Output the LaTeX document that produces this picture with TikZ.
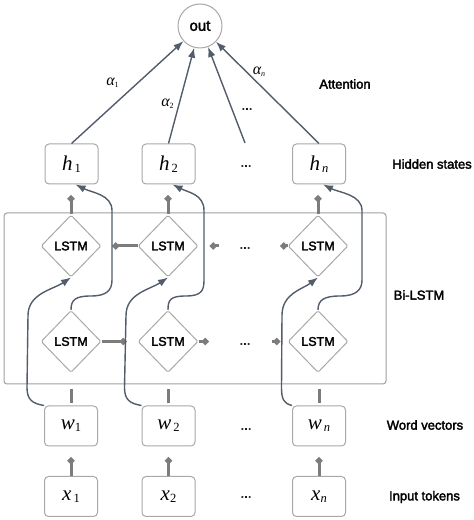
\documentclass[tikz,border=0pt]{standalone}
\usepackage{fontspec}
\setmainfont{Liberation Sans}
\newfontfamily\lfont{Liberation Sans}[FakeBold=2.5]
\newfontfamily\tms{Liberation Serif}
\usetikzlibrary{shapes.geometric,arrows.meta,calc}
\definecolor{dkc}{HTML}{535C6A}
\definecolor{stubc}{HTML}{7C7C7C}
\definecolor{bord}{HTML}{A8A8A8}
\newcommand\mv[2]{{\fontsize{21}{21}\selectfont\tms\itshape #1}\raisebox{-0.2em}{\fontsize{12.5}{12.5}\selectfont\tms #2}}
\newcommand\al[1]{{\fontsize{16}{16}\selectfont\tms\itshape\char"03B1}\raisebox{-0.2em}{\fontsize{8}{8}\selectfont\tms #1}}
\begin{document}
\begin{tikzpicture}[x=1pt,y=1pt,
  box/.style={draw=bord, line width=1pt, rounded corners=4pt, minimum width=53pt, minimum height=40pt, inner sep=0pt, fill=white},
  lstm/.style={diamond, draw=bord, line width=1pt, rounded corners=1.5pt, minimum width=60pt, minimum height=62pt, inner sep=0pt, fill=white, font=\lfont\fontsize{12.5}{12.5}\selectfont},
  lab/.style={font=\lfont\fontsize{13}{13}\selectfont},
  dots/.style={font=\lfont\fontsize{13}{13}\selectfont},
  dk/.style={draw=dkc, line width=1.4pt, -{Latex[length=10pt,width=7.5pt]}},
  stub/.style={draw=stubc, line width=3pt, -{Circle[length=6.5pt]}},
  stubplain/.style={draw=stubc, line width=3pt},
  bil/.style={draw=gray!75, line width=1pt, rounded corners=3pt, minimum width=382pt, minimum height=171pt, inner sep=0pt},
  outc/.style={circle, draw=bord, line width=1pt, minimum size=44pt, inner sep=0pt, font=\lfont\fontsize{15}{15}\selectfont}
]
\useasboundingbox (0,0) rectangle (474,520);

% Bi-LSTM frame
\node[bil] (bi) at (195,221.5) {};

% output
\node[outc] (out) at (200,494) {out};

% hidden states
\node[box] (h1) at (71.5,356) {\mv{h}{\,1}};
\node[box] (h2) at (168.5,356) {\mv{h}{\,2}};
\node[box] (hn) at (319,356) {\mv{h}{\,\itshape n}};
\node[dots] (hd) at (246,354) {...};

% LSTM cells
\node[lstm] (u1) at (71,274) {LSTM};
\node[lstm] (u2) at (168,274) {LSTM};
\node[lstm] (un) at (318,274) {LSTM};
\node[dots] (ud) at (245,272) {...};
\node[lstm] (l1) at (71,178.5) {LSTM};
\node[lstm] (l2) at (168,178.5) {LSTM};
\node[lstm] (ln) at (318,178.5) {LSTM};
\node[dots] (ldd) at (245,176) {...};

% word vectors
\node[box] (w1) at (71,94) {\mv{w}{1}};
\node[box] (w2) at (168.5,94) {\mv{w}{\,2}};
\node[box] (wn) at (319,94) {\mv{w}{\,\itshape n}};
\node[dots] (wd) at (246,91) {...};

% input tokens
\node[box] (x1) at (71,23.5) {\mv{x}{\,1}};
\node[box] (x2) at (168.5,23.5) {\mv{x}{2}};
\node[box] (xn) at (319,23.5) {\mv{x}{\itshape n}};
\node[dots] (xd) at (246,23) {...};

% right-hand labels
\node[lab] (latt) at (345,436) {Attention};
\node[lab] (lhid) at (432,356) {Hidden states};
\node[lab] (lbi) at (419,225) {Bi-LSTM};
\node[lab] (lwv) at (425,95) {Word vectors};
\node[lab] (lit) at (424.5,23) {Input tokens};

% attention
\coordinate (dh) at (245,377);
\draw[dk] (h1.north) -- (out);
\draw[dk] (h2.north) -- (out);
\draw[dk] (dh) -- (out);
\draw[dk] (hn.north) -- (out);
\node (a1) at (112.5,437) {\al{1}};
\node (a2) at (167.5,416) {\al{2}};
\node (an) at (259,448) {\al{\itshape n}};
\node[dots] (ad) at (247,411) {...};

% input -> word vectors
\draw[stub, shorten >=11pt] (x1.north) -- (w1.south);
\draw[stub, shorten >=11pt] (x2.north) -- (w2.south);
\draw[stub, shorten >=11pt] (xn.north) -- (wn.south);

% word vectors -> forward LSTM
\draw[stubplain, shorten <=2pt, shorten >=16pt] (w1.north) -- (w1.north |- l1.south);
\draw[stubplain, shorten <=2pt, shorten >=16pt] (w2.north) -- (w2.north |- l2.south);
\draw[stubplain, shorten <=2pt, shorten >=16pt] (wn.north) -- (wn.north |- ln.south);

% backward LSTM -> hidden
\draw[stub, shorten >=11pt] (u1.north) -- (u1.north |- h1.south);
\draw[stub, shorten >=11pt] (u2.north) -- (u2.north |- h2.south);
\draw[stub, shorten >=11pt] (un.north) -- (un.north |- hn.south);

% recurrent links
\draw[stub, shorten >=11pt] (u2.west) -- (u1.east);
\coordinate (ua) at (219,274); \coordinate (ub) at (210,274);
\draw[stub] (ua) -- (ub);
\draw[stub] (un.west) -- ++(-7,0);
\draw[stub, shorten >=11pt] (l1.east) -- (l2.west);
\draw[stub] (l2.east) -- ++(10,0);
\coordinate (la) at (272,178.5);
\draw[stub] (la) -- ++(8,0);

% column 1 wires
\draw[dk] (l1.north) .. controls +(0,10) and +(-16,0) .. ($(l1.north)+(20,14)$) .. controls +(16,0) and +(0,-10) .. ($(l1.north)+(41,30)$) -- ($(h1.south)+(40.5,-26)$) .. controls +(0,16) and +(16,-8) .. ($(h1.south)+(4,0)$);
\draw[dk] (w1.north west) .. controls +(-12,2) and +(0,-12) .. ($(w1.north west)+(-17,18)$) -- ($(u1.south)+(-43,-38)$) .. controls +(0,22) and +(-18,-12) .. (u1.south);

% column 2 wires
\draw[dk] (l2.north) .. controls +(0,10) and +(-16,0) .. ($(l2.north)+(18,14)$) .. controls +(16,0) and +(0,-10) .. ($(l2.north)+(36,30)$) -- ($(h2.south)+(35.5,-26)$) .. controls +(0,16) and +(16,-8) .. ($(h2.south)+(4,0)$);
\draw[dk] (w2.north west) .. controls +(-12,2) and +(0,-12) .. ($(w2.north west)+(-17,18)$) -- ($(u2.south)+(-42,-38)$) .. controls +(0,22) and +(-18,-12) .. (u2.south);

% column n wires
\draw[dk] (ln.north) .. controls +(0,10) and +(-16,0) .. ($(ln.north)+(22,14)$) .. controls +(16,0) and +(0,-10) .. ($(ln.north)+(44,30)$) -- ($(hn.south)+(43,-26)$) .. controls +(0,16) and +(16,-8) .. ($(hn.south)+(4,0)$);
\draw[dk] (wn.north west) .. controls +(-8,2) and +(0,-12) .. ($(wn.north west)+(-10.5,18)$) -- ($(un.south)+(-36,-38)$) .. controls +(0,22) and +(-16,-12) .. (un.south);
\end{tikzpicture}
\end{document}
